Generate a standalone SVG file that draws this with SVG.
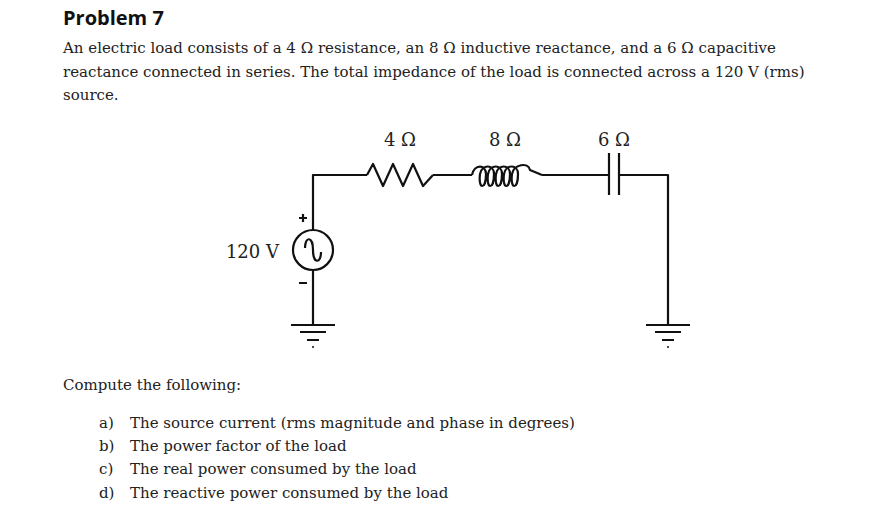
<svg xmlns="http://www.w3.org/2000/svg" width="869" height="512" viewBox="0 0 869 512">
<style>
.t{font-family:"DejaVu Serif","Liberation Serif",serif;font-size:15px;fill:#222}
.l{font-family:"DejaVu Serif","Liberation Serif",serif;font-size:18px;fill:#222}
.w{fill:none;stroke:#111;stroke-width:2.2;stroke-linejoin:round}
.h{font-family:"Open Sans","Liberation Sans",sans-serif;font-size:20px;font-weight:bold;fill:#111}
</style>
<rect width="869" height="512" fill="#fff"/>
<text class="h" x="63" y="25">Problem 7</text>
<text class="t" x="63" y="53">An electric load consists of a 4 Ω resistance, an 8 Ω inductive reactance, and a 6 Ω capacitive</text>
<text class="t" x="63" y="77">reactance connected in series. The total impedance of the load is connected across a 120 V (rms)</text>
<text class="t" x="63" y="100">source.</text>
<g id="connectors">
<path class="w" d="M313,230 V175 H367 M433,175 H472 M542,175 H609 M619,175 H668 V325 M313,270 V325"/>
</g>
<g id="resistor"><path class="w" d="M367,175 L373,164 L383,186 L393,164 L403,186 L413,164 L423,186 L433,175"/><text class="l" x="400" y="146" text-anchor="middle">4 Ω</text></g>
<g id="inductor"><path class="w" d="M472,175 C474,164 486,164 486,174 C486,190 478,190 480,174 C482,164 494,164 494,174 C494,190 486,190 488,174 C490,164 502,164 502,174 C502,190 494,190 496,174 C498,164 510,164 510,174 C510,190 502,190 504,174 C506,164 518,164 518,174 C518,190 510,190 512,174 C514,164 528,162 530,170 L542,175"/><text class="l" x="505" y="146" text-anchor="middle">8 Ω</text></g>
<g id="capacitor"><path class="w" d="M609,153 V195 M619,153 V195"/><text class="l" x="614" y="146" text-anchor="middle">6 Ω</text></g>
<g id="source"><circle class="w" cx="313" cy="250" r="20"/><path class="w" d="M305,248 C305,236 313,236 313,250 C313,264 321,264 321,252"/>
<path class="w" d="M299,218 H307 M303,214 V222 M299,283 H307"/>
<text class="l" x="279" y="258" text-anchor="end">120 V</text></g>
<g id="ground1"><path class="w" d="M291,325 H335 M300,332 H326 M307,340 H319"/><circle cx="313" cy="347" r="1" fill="#111"/></g>
<g id="ground2"><path class="w" d="M646,325 H690 M655,332 H681 M662,340 H674"/><circle cx="668" cy="347" r="1" fill="#111"/></g>
<text class="t" x="63" y="390">Compute the following:</text>
<text class="t" x="99" y="428">a)</text><text class="t" x="130" y="428">The source current (rms magnitude and phase in degrees)</text>
<text class="t" x="99" y="451">b)</text><text class="t" x="130" y="451">The power factor of the load</text>
<text class="t" x="99" y="474">c)</text><text class="t" x="130" y="474">The real power consumed by the load</text>
<text class="t" x="99" y="498">d)</text><text class="t" x="130" y="498">The reactive power consumed by the load</text>
</svg>
